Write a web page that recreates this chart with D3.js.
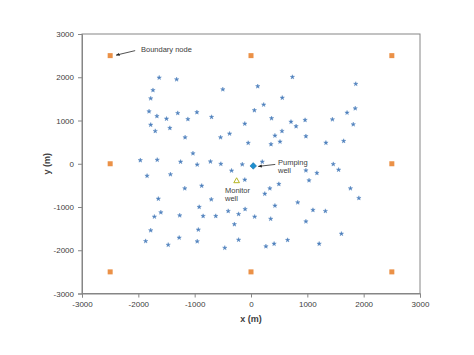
<!DOCTYPE html>
<html>
<head>
<meta charset="utf-8">
<script src="https://d3js.org/d3.v7.min.js"></script>
<style>
  body { margin: 0; background: #fff; }
  text { font-family: "Liberation Sans", Arial, sans-serif; fill: #404040; }
</style>
</head>
<body>
<script>
// observation points (m)
const obsX = [-1630, -1320, -1740, -500, -1780, -1810, -1670, -1500, -1300, -1120, -960, -700, -110, -1780, -1700,
  -1440, -1170, -540, -380, -50, -1030, -1965, -1665, -1250, -955, -720, -535, -155, -345, -1845, -1430, -110,
  -1175, -875, -1645, -705, -920, -1715, -1600, -1265, -850, -625, -405, -220, -105, -295, -1780, -935, -1870,
  -1470, -1275, -955, -220, -465, 735, 120, 1860, 555, 225, 60, 1705, 1850, 365, 710, 960, 1445, 800, 1815, 425,
  550, 975, 355, 515, 1330, 1645, 200, 1460, 1555, 975, 1170, 1030, 495, 335, 245, 1765, 1915, 830, 425, 1100,
  1320, 65, 350, 975, 1605, 650, 410, 265, 1210];
const obsY = [1990, 1950, 1700, 1720, 1510, 1210, 1100, 1040, 1170, 1030, 1190, 1080, 925, 900, 755,
  825, 610, 610, 695, 480, 240, 80, 90, 45, -20, 50, -5, -15, -160, -280, -245, -370,
  -570, -510, -810, -825, -1000, -1225, -1125, -1195, -1210, -1210, -1095, -1165, -1050, -1400, -1540, -1525, -1790,
  -1875, -1710, -1795, -1760, -1945, 2005, 1790, 1845, 1525, 1365, 1235, 1180, 1280, 1050, 970, 1010, 1025, 865, 910, 650,
  755, 635, 450, 510, 485, 525, 45, -10, -140, -155, -215, -385, -470, -570, -695, -570, -795, -895, -970, -1070,
  -1095, -1225, -1275, -1335, -1620, -1765, -1850, -1910, -1850];

const boundaryX = [-2500, 0, 2500, -2500, 2500, -2500, 0, 2500];
const boundaryY = [2500, 2500, 2500, 0, 0, -2500, -2500, -2500];

const pumpingWell = [40, -50];
const monitorWell = [-255, -400];

const ticks = [-3000, -2000, -1000, 0, 1000, 2000, 3000];

const W = 474, H = 355;
const margin = { left: 82, right: 54, top: 34, bottom: 61.5 };

const svg = d3.select("body").append("svg").attr("width", W).attr("height", H);

const x = d3.scaleLinear().domain([-3000, 3000]).range([margin.left, W - margin.right]);
const y = d3.scaleLinear().domain([-3000, 3000]).range([H - margin.bottom, margin.top]);

// plot area border
svg.append("rect")
  .attr("x", x(-3000)).attr("y", y(3000))
  .attr("width", x(3000) - x(-3000)).attr("height", y(-3000) - y(3000))
  .attr("fill", "none").attr("stroke", "#868686").attr("stroke-width", 1);

const xAxis = svg.append("g")
  .attr("transform", `translate(0,${y(-3000)})`)
  .call(d3.axisBottom(x).tickValues(ticks).tickSize(4).tickPadding(4).tickFormat(d3.format("d")));
const yAxis = svg.append("g")
  .attr("transform", `translate(${x(-3000)},0)`)
  .call(d3.axisLeft(y).tickValues(ticks).tickSize(4).tickPadding(4).tickFormat(d3.format("d")));

[xAxis, yAxis].forEach(g => {
  g.select(".domain").attr("stroke", "#868686");
  g.selectAll(".tick line").attr("stroke", "#868686");
  g.selectAll(".tick text").attr("font-size", 8).attr("fill", "#404040")
    .style("font-family", "Liberation Sans, Arial, sans-serif");
});
xAxis.selectAll(".tick text").text(d => d < 0 ? "-" + Math.abs(d) : d);
yAxis.selectAll(".tick text").text(d => d < 0 ? "-" + Math.abs(d) : d);

svg.append("text").attr("x", x(0)).attr("y", 322).attr("text-anchor", "middle")
  .attr("font-size", 9).attr("font-weight", "bold").text("x (m)");
svg.append("text").attr("transform", `translate(50,${y(0)}) rotate(-90)`).attr("text-anchor", "middle")
  .attr("font-size", 9).attr("font-weight", "bold").text("y (m)");

// observation points
const star = d3.symbol().type(d3.symbolStar).size(6);
svg.append("g").selectAll("path").data(obsX.map((d, i) => [d, obsY[i]])).join("path")
  .attr("d", star)
  .attr("transform", d => `translate(${x(d[0])},${y(d[1])})`)
  .attr("fill", "#4f81bd").attr("stroke", "#4f81bd").attr("stroke-width", 0.4);

// boundary nodes
svg.append("g").selectAll("rect").data(boundaryX.map((d, i) => [d, boundaryY[i]])).join("rect")
  .attr("x", d => x(d[0]) - 2.5).attr("y", d => y(d[1]) - 2.5)
  .attr("width", 5).attr("height", 5)
  .attr("fill", "#e46c0a").attr("opacity", 0.75);

// pumping well
svg.append("path")
  .attr("d", d3.symbol().type(d3.symbolSquare).size(22)())
  .attr("transform", `translate(${x(pumpingWell[0])},${y(pumpingWell[1])}) rotate(45)`)
  .attr("fill", "#1f8fcf").attr("stroke", "#1a6fa8").attr("stroke-width", 0.5);

// monitor well
svg.append("path")
  .attr("d", d3.symbol().type(d3.symbolTriangle).size(14)())
  .attr("transform", `translate(${x(monitorWell[0])},${y(monitorWell[1])})`)
  .attr("fill", "#fff").attr("stroke", "#b5b520").attr("stroke-width", 1);

// annotations
const defs = svg.append("defs");
defs.append("marker").attr("id", "ah").attr("viewBox", "0 0 10 10")
  .attr("refX", 9).attr("refY", 5).attr("markerWidth", 5).attr("markerHeight", 5)
  .attr("orient", "auto")
  .append("path").attr("d", "M0,1L10,5L0,9Z").attr("fill", "#262626");

function arrow(x1, y1, x2, y2) {
  svg.append("line").attr("x1", x1).attr("y1", y1).attr("x2", x2).attr("y2", y2)
    .attr("stroke", "#262626").attr("stroke-width", 0.8).attr("marker-end", "url(#ah)");
}

arrow(x(-2500) + 25, y(2500) - 5, x(-2500) + 6, y(2500) - 0.5);
svg.append("text").attr("x", 141).attr("y", 51.5).attr("font-size", 7.5).text("Boundary node");

arrow(x(pumpingWell[0]) + 22, y(pumpingWell[1]) - 1.5, x(pumpingWell[0]) + 5, y(pumpingWell[1]) + 0.5);
svg.append("text").attr("x", 278).attr("y", 165).attr("font-size", 7.5).text("Pumping");
svg.append("text").attr("x", 278).attr("y", 172.5).attr("font-size", 7.5).text("well");

svg.append("text").attr("x", 225).attr("y", 192.5).attr("font-size", 7.5).text("Monitor");
svg.append("text").attr("x", 225).attr("y", 200.5).attr("font-size", 7.5).text("well");
</script>
</body>
</html>
